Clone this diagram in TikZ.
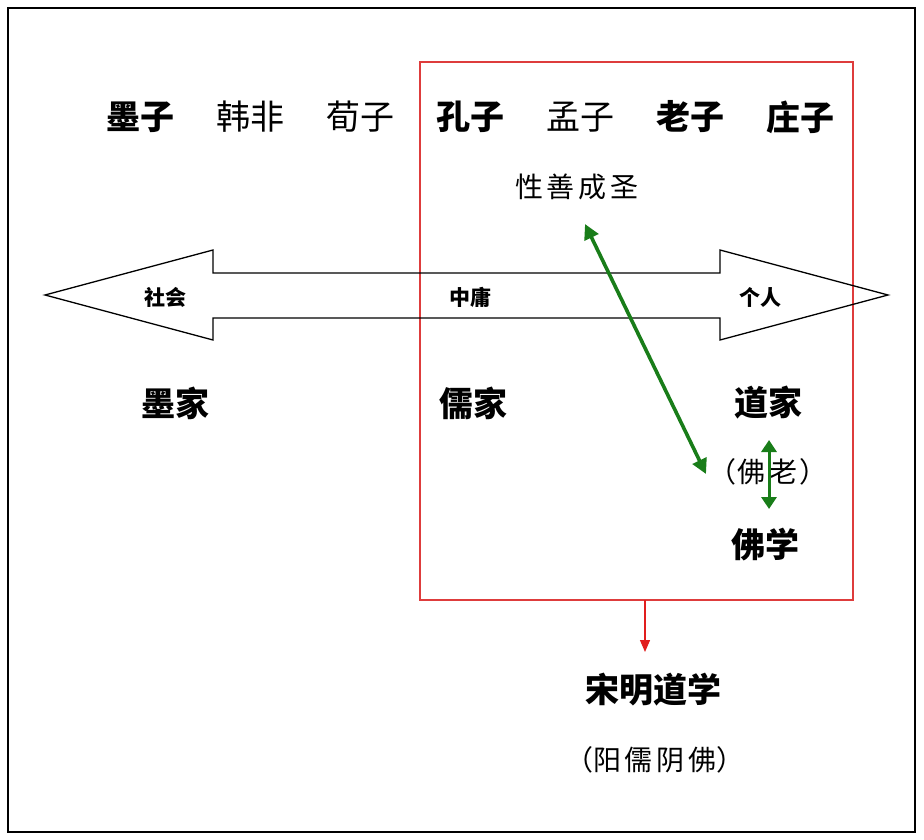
\documentclass[tikz,border=0pt]{standalone}
\usepackage{fontspec}
\newfontfamily\cjk{Noto Sans CJK SC}
\usetikzlibrary{arrows.meta}
\definecolor{boxred}{RGB}{222,60,60}
\definecolor{arrred}{RGB}{225,30,30}
\definecolor{dgreen}{RGB}{25,125,25}
\tikzset{
  big/.style={font=\cjk\fontsize{34}{36}\selectfont\bfseries, inner sep=0pt},
  bigr/.style={font=\cjk\fontsize{34}{36}\selectfont, inner sep=0pt},
  mid/.style={font=\cjk\fontsize{28}{30}\selectfont, inner sep=0pt},
  small/.style={font=\cjk\fontsize{21}{23}\selectfont\bfseries, inner sep=0pt},
  garrow/.style={draw=dgreen, line width=3.6pt, {Triangle[length=15pt,width=15pt]}-{Triangle[length=15pt,width=15pt]}},
}
\begin{document}
\begin{tikzpicture}[x=1pt,y=-1pt]
\useasboundingbox (0,0) rectangle (924,840);
\fill[white] (0,0) rectangle (924,840);
% outer frame
\draw[line width=2pt, black] (8,8) rectangle (915,832);
% red box
\draw[boxred, line width=1.6pt] (420,62) rectangle (853,600);
\coordinate (rb) at (645,600);
\coordinate (re) at (645,652);
% double arrow shape
\draw[line width=1.3pt, black]
  (45,295) -- (213,250) -- (213,273) -- (720,273) -- (720,250) -- (888,295)
  -- (720,340) -- (720,318) -- (213,318) -- (213,340) -- cycle;
% top names
\node[big]  (mozi)   at (140,117) {墨子};
\node[bigr] (hanfei) at (250,117) {韩非};
\node[bigr] (xunzi)  at (360,117) {荀子};
\node[big]  (kongzi) at (470,117) {孔子};
\node[bigr] (mengzi) at (580,117) {孟子};
\node[big]  (laozi)  at (690,117) {老子};
\node[big]  (zhuang) at (800,117) {庄子};
\node[mid]  (xs)     at (577,187) {性\hspace{4pt}善\hspace{4pt}成\hspace{4pt}圣};
% arrow labels
\node[small] (shehui) at (165,297) {社会};
\node[small] (zhy)    at (470,297) {中庸};
\node[small] (geren)  at (760,297) {个人};
% schools
\node[big] (mojia) at (175,403) {墨家};
\node[big] (rujia) at (473,403) {儒家};
\node[big] (daojia) at (768,403) {道家};
\node[mid] (folao) at (768,472) {（\hspace{2pt}佛\hspace{4pt}老\hspace{2pt}）};
\node[big] (foxue) at (765,545) {佛学};
\node[big] (smdx) at (653,690) {宋明道学};
\node[mid] (yrbf) at (655,760) {（阳\hspace{4pt}儒\hspace{4pt}阴\hspace{4pt}佛）};
% green arrows
\coordinate (g1) at (585,224);
\coordinate (g2) at (706,474);
\draw[garrow] (g1) -- (g2);
\coordinate (v1) at (769,440);
\coordinate (v2) at (769,509);
\draw[garrow, line width=3pt, {Triangle[length=12pt,width=15pt]}-{Triangle[length=12pt,width=15pt]}] (v1) -- (v2);
% red arrow
\draw[arrred, line width=1.3pt, -{Triangle[length=12pt,width=10pt]}] (rb) -- (re);
\end{tikzpicture}
\end{document}
